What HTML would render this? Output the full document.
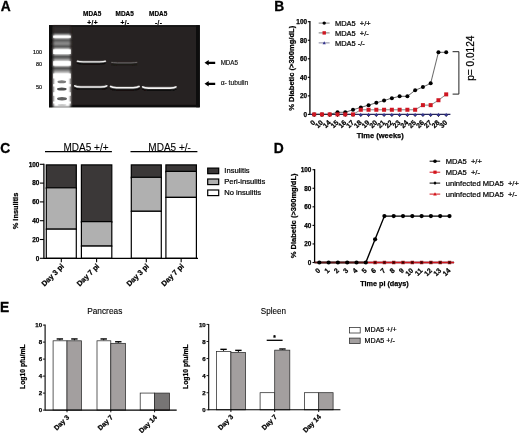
<!DOCTYPE html>
<html><head><meta charset="utf-8"><title>Figure</title>
<style>
html,body{margin:0;padding:0;background:#fff;}
body{width:520px;height:433px;overflow:hidden;}
svg{display:block;font-family:"Liberation Sans",sans-serif;}
</style></head><body>
<svg width="520" height="433" viewBox="0 0 520 433">
<defs>
<filter id="b1" x="-20%" y="-200%" width="140%" height="500%"><feGaussianBlur stdDeviation="0.6"/></filter>
<filter id="b2" x="-20%" y="-200%" width="140%" height="500%"><feGaussianBlur stdDeviation="1.1"/></filter>
<filter id="b3" x="-30%" y="-30%" width="160%" height="160%"><feGaussianBlur stdDeviation="0.9"/></filter>
<filter id="b0" x="-10%" y="-200%" width="120%" height="500%"><feGaussianBlur stdDeviation="0.35"/></filter>
<filter id="soft" x="0" y="0" width="100%" height="100%"><feGaussianBlur stdDeviation="0.3"/></filter>
</defs>
<rect width="520" height="433" fill="#fff"/>
<g filter="url(#soft)">

<text x="0.8" y="10.8" font-size="13.8" font-weight="bold" fill="#000" stroke="#000" stroke-width="0.3">A</text>
<text x="274.3" y="10.8" font-size="13.8" font-weight="bold" fill="#000" stroke="#000" stroke-width="0.3">B</text>
<text x="0.15" y="153.1" font-size="13.8" font-weight="bold" fill="#000" stroke="#000" stroke-width="0.3">C</text>
<text x="273.8" y="152.8" font-size="13.8" font-weight="bold" fill="#000" stroke="#000" stroke-width="0.3">D</text>
<text x="0" y="311.9" font-size="13.8" font-weight="bold" fill="#000" stroke="#000" stroke-width="0.3">E</text>
<g id="panelA">
<rect x="49.00" y="25.20" width="150.80" height="82.10" fill="#262120"/>
<rect x="196.20" y="25.20" width="3.60" height="82.10" fill="#0c0b0b"/>
<rect x="49.00" y="104.80" width="150.50" height="2.40" fill="#0c0b0b"/>
<rect x="49.00" y="25.30" width="150.50" height="1.20" fill="#0c0b0b"/>
<rect x="49.00" y="25.30" width="3.40" height="81.90" fill="#0c0b0b"/>
<g filter="url(#b3)">
<rect x="53.30" y="26.00" width="17.20" height="8.00" fill="#302d2d"/>
<rect x="53.30" y="34.00" width="17.20" height="1.30" fill="#666"/>
<rect x="53.30" y="35.30" width="17.20" height="2.80" fill="#fff"/>
<rect x="53.30" y="38.10" width="17.20" height="3.50" fill="#5a5a5a"/>
<rect x="53.30" y="41.60" width="17.20" height="3.40" fill="#8e8e8e"/>
<rect x="53.30" y="45.00" width="17.20" height="3.70" fill="#505050"/>
<rect x="53.30" y="48.70" width="17.20" height="6.00" fill="#fff"/>
<rect x="53.30" y="54.70" width="17.20" height="3.50" fill="#454545"/>
<rect x="53.30" y="58.20" width="17.20" height="2.30" fill="#8c8c8c"/>
<rect x="53.30" y="60.50" width="17.20" height="5.80" fill="#fff"/>
<rect x="53.30" y="66.30" width="17.20" height="3.70" fill="#484848"/>
<rect x="53.30" y="70.00" width="17.20" height="2.60" fill="#9a9a9a"/>
<rect x="53.30" y="72.60" width="17.20" height="34.50" fill="#fff"/>
</g>
<rect x="53.20" y="35.60" width="17.60" height="2.20" fill="#fff" filter="url(#b1)"/>
<rect x="53.20" y="49.40" width="17.60" height="4.60" fill="#fff" filter="url(#b1)"/>
<rect x="53.20" y="61.20" width="17.60" height="4.40" fill="#fff" filter="url(#b1)"/>
<rect x="53.20" y="73.50" width="17.60" height="5.00" fill="#fff" filter="url(#b1)"/>
<rect x="53.20" y="84.10" width="17.60" height="2.40" fill="#fff" filter="url(#b1)"/>
<rect x="53.20" y="92.20" width="17.60" height="3.60" fill="#fff" filter="url(#b1)"/>
<rect x="53.20" y="101.50" width="17.60" height="2.00" fill="#fff" filter="url(#b1)"/>
<ellipse cx="61.8" cy="81.75" rx="4.3" ry="1.5" fill="#7c7c7c" filter="url(#b1)"/>
<ellipse cx="61.8" cy="88.9" rx="4.8" ry="1.5" fill="#4c4c4c" filter="url(#b1)"/>
<ellipse cx="62" cy="98.7" rx="5.0" ry="1.7" fill="#606060" filter="url(#b1)"/>
<ellipse cx="62" cy="105" rx="4.5" ry="0.8" fill="#bbb" filter="url(#b1)"/>
<path d="M77.2,61.1 Q78.7,61.6 83.2,61.8 L99.6,61.8 Q104.1,61.6 105.6,61.1" transform="translate(0,1.6)" fill="none" stroke="#0c0a0a" stroke-width="2.4" opacity="1" filter="url(#b1)"/>
<path d="M77.2,61.1 Q78.7,61.6 83.2,61.8 L99.6,61.8 Q104.1,61.6 105.6,61.1" fill="none" stroke="#888" stroke-width="2.7" opacity="0.45" filter="url(#b1)"/>
<path d="M77.2,61.1 Q78.7,61.6 83.2,61.8 L99.6,61.8 Q104.1,61.6 105.6,61.1" fill="none" stroke="#f4f4f4" stroke-width="1.3" stroke-linecap="round" opacity="1" filter="url(#b0)"/>
<path d="M111.5,62.4 Q113.0,62.7 117.5,62.9 L131,62.9 Q135.5,62.7 137,62.4" transform="translate(0,1.6)" fill="none" stroke="#0c0a0a" stroke-width="2.4" opacity="0.336" filter="url(#b1)"/>
<path d="M111.5,62.4 Q113.0,62.7 117.5,62.9 L131,62.9 Q135.5,62.7 137,62.4" fill="none" stroke="#888" stroke-width="2.4" opacity="0.12600000000000003" filter="url(#b1)"/>
<path d="M111.5,62.4 Q113.0,62.7 117.5,62.9 L131,62.9 Q135.5,62.7 137,62.4" fill="none" stroke="#f4f4f4" stroke-width="1.0" stroke-linecap="round" opacity="0.28" filter="url(#b0)"/>
<path d="M74.8,85.8 Q76.3,86.8 80.8,87.0 L100.8,87.0 Q105.3,86.8 106.8,85.8" transform="translate(0,1.6)" fill="none" stroke="#0c0a0a" stroke-width="2.4" opacity="1" filter="url(#b1)"/>
<path d="M74.8,85.8 Q76.3,86.8 80.8,87.0 L100.8,87.0 Q105.3,86.8 106.8,85.8" fill="none" stroke="#888" stroke-width="3.0" opacity="0.45" filter="url(#b1)"/>
<path d="M74.8,85.8 Q76.3,86.8 80.8,87.0 L100.8,87.0 Q105.3,86.8 106.8,85.8" fill="none" stroke="#f4f4f4" stroke-width="1.6" stroke-linecap="round" opacity="1" filter="url(#b0)"/>
<path d="M110.5,86.4 Q112.0,87.6 116.5,87.8 L133.1,87.8 Q137.6,87.6 139.1,86.4" transform="translate(0,1.6)" fill="none" stroke="#0c0a0a" stroke-width="2.4" opacity="1" filter="url(#b1)"/>
<path d="M110.5,86.4 Q112.0,87.6 116.5,87.8 L133.1,87.8 Q137.6,87.6 139.1,86.4" fill="none" stroke="#888" stroke-width="3.0" opacity="0.45" filter="url(#b1)"/>
<path d="M110.5,86.4 Q112.0,87.6 116.5,87.8 L133.1,87.8 Q137.6,87.6 139.1,86.4" fill="none" stroke="#f4f4f4" stroke-width="1.6" stroke-linecap="round" opacity="1" filter="url(#b0)"/>
<path d="M142.6,86.89999999999999 Q144.1,87.89999999999999 148.6,88.1 L170,88.1 Q174.5,87.89999999999999 176,86.89999999999999" transform="translate(0,1.6)" fill="none" stroke="#0c0a0a" stroke-width="2.4" opacity="1" filter="url(#b1)"/>
<path d="M142.6,86.89999999999999 Q144.1,87.89999999999999 148.6,88.1 L170,88.1 Q174.5,87.89999999999999 176,86.89999999999999" fill="none" stroke="#888" stroke-width="3.0" opacity="0.45" filter="url(#b1)"/>
<path d="M142.6,86.89999999999999 Q144.1,87.89999999999999 148.6,88.1 L170,88.1 Q174.5,87.89999999999999 176,86.89999999999999" fill="none" stroke="#f4f4f4" stroke-width="1.6" stroke-linecap="round" opacity="1" filter="url(#b0)"/>
<text x="42.2" y="54" font-size="5.5" text-anchor="end" fill="#111" stroke="#111" stroke-width="0.2">100</text>
<text x="42.2" y="65.6" font-size="5.5" text-anchor="end" fill="#111" stroke="#111" stroke-width="0.2">80</text>
<text x="42.2" y="89.1" font-size="5.5" text-anchor="end" fill="#111" stroke="#111" stroke-width="0.2">50</text>
<text x="92.2" y="15.9" font-size="6.4" font-weight="bold" text-anchor="middle" fill="#000" stroke="#000" stroke-width="0.2" textLength="18.2" lengthAdjust="spacingAndGlyphs">MDA5</text>
<text x="92.4" y="25" font-size="6.6" font-weight="bold" text-anchor="middle" fill="#000" stroke="#000" stroke-width="0.2" textLength="10.2" lengthAdjust="spacing">+/+</text>
<text x="124.7" y="15.9" font-size="6.4" font-weight="bold" text-anchor="middle" fill="#000" stroke="#000" stroke-width="0.2" textLength="18.2" lengthAdjust="spacingAndGlyphs">MDA5</text>
<text x="124.9" y="25" font-size="6.6" font-weight="bold" text-anchor="middle" fill="#000" stroke="#000" stroke-width="0.2" textLength="8.7" lengthAdjust="spacing">+/-</text>
<text x="158.20000000000002" y="15.9" font-size="6.4" font-weight="bold" text-anchor="middle" fill="#000" stroke="#000" stroke-width="0.2" textLength="18.2" lengthAdjust="spacingAndGlyphs">MDA5</text>
<text x="158.4" y="25" font-size="6.6" font-weight="bold" text-anchor="middle" fill="#000" stroke="#000" stroke-width="0.2" textLength="7" lengthAdjust="spacing">-/-</text>
<path d="M204.5,62.8 l4.2,-2.7 v1.6 h6.4999999999999885 v2.2 h-6.4999999999999885 v1.6 z" fill="#000"/>
<path d="M204.5,83.8 l4.2,-2.7 v1.6 h6.4999999999999885 v2.2 h-6.4999999999999885 v1.6 z" fill="#000"/>
<text x="220.7" y="64.8" font-size="6.5" fill="#111" stroke="#111" stroke-width="0.18" textLength="17.3" lengthAdjust="spacingAndGlyphs">MDA5</text>
<text x="220.7" y="85.4" font-size="6.7" fill="#111" stroke="#111" stroke-width="0.18" textLength="27.6" lengthAdjust="spacingAndGlyphs">α- tubulin</text>
</g>
<g id="panelB">
<line x1="314.20" y1="114.40" x2="314.20" y2="116.90" stroke="#000" stroke-width="0.9"/>
<text x="315.7" y="122.9" font-size="7" font-weight="bold" text-anchor="end" fill="#000" stroke="#000" stroke-width="0.25" transform="rotate(-45 315.7 122.9)">0</text>
<line x1="321.96" y1="114.40" x2="321.96" y2="116.90" stroke="#000" stroke-width="0.9"/>
<text x="323.465" y="122.9" font-size="7" font-weight="bold" text-anchor="end" fill="#000" stroke="#000" stroke-width="0.25" transform="rotate(-45 323.465 122.9)">10</text>
<line x1="329.73" y1="114.40" x2="329.73" y2="116.90" stroke="#000" stroke-width="0.9"/>
<text x="331.22999999999996" y="122.9" font-size="7" font-weight="bold" text-anchor="end" fill="#000" stroke="#000" stroke-width="0.25" transform="rotate(-45 331.22999999999996 122.9)">14</text>
<line x1="337.50" y1="114.40" x2="337.50" y2="116.90" stroke="#000" stroke-width="0.9"/>
<text x="338.995" y="122.9" font-size="7" font-weight="bold" text-anchor="end" fill="#000" stroke="#000" stroke-width="0.25" transform="rotate(-45 338.995 122.9)">15</text>
<line x1="345.26" y1="114.40" x2="345.26" y2="116.90" stroke="#000" stroke-width="0.9"/>
<text x="346.76" y="122.9" font-size="7" font-weight="bold" text-anchor="end" fill="#000" stroke="#000" stroke-width="0.25" transform="rotate(-45 346.76 122.9)">16</text>
<line x1="353.02" y1="114.40" x2="353.02" y2="116.90" stroke="#000" stroke-width="0.9"/>
<text x="354.525" y="122.9" font-size="7" font-weight="bold" text-anchor="end" fill="#000" stroke="#000" stroke-width="0.25" transform="rotate(-45 354.525 122.9)">17</text>
<line x1="360.79" y1="114.40" x2="360.79" y2="116.90" stroke="#000" stroke-width="0.9"/>
<text x="362.28999999999996" y="122.9" font-size="7" font-weight="bold" text-anchor="end" fill="#000" stroke="#000" stroke-width="0.25" transform="rotate(-45 362.28999999999996 122.9)">18</text>
<line x1="368.56" y1="114.40" x2="368.56" y2="116.90" stroke="#000" stroke-width="0.9"/>
<text x="370.055" y="122.9" font-size="7" font-weight="bold" text-anchor="end" fill="#000" stroke="#000" stroke-width="0.25" transform="rotate(-45 370.055 122.9)">19</text>
<line x1="376.32" y1="114.40" x2="376.32" y2="116.90" stroke="#000" stroke-width="0.9"/>
<text x="377.82" y="122.9" font-size="7" font-weight="bold" text-anchor="end" fill="#000" stroke="#000" stroke-width="0.25" transform="rotate(-45 377.82 122.9)">20</text>
<line x1="384.08" y1="114.40" x2="384.08" y2="116.90" stroke="#000" stroke-width="0.9"/>
<text x="385.585" y="122.9" font-size="7" font-weight="bold" text-anchor="end" fill="#000" stroke="#000" stroke-width="0.25" transform="rotate(-45 385.585 122.9)">21</text>
<line x1="391.85" y1="114.40" x2="391.85" y2="116.90" stroke="#000" stroke-width="0.9"/>
<text x="393.34999999999997" y="122.9" font-size="7" font-weight="bold" text-anchor="end" fill="#000" stroke="#000" stroke-width="0.25" transform="rotate(-45 393.34999999999997 122.9)">22</text>
<line x1="399.62" y1="114.40" x2="399.62" y2="116.90" stroke="#000" stroke-width="0.9"/>
<text x="401.115" y="122.9" font-size="7" font-weight="bold" text-anchor="end" fill="#000" stroke="#000" stroke-width="0.25" transform="rotate(-45 401.115 122.9)">23</text>
<line x1="407.38" y1="114.40" x2="407.38" y2="116.90" stroke="#000" stroke-width="0.9"/>
<text x="408.88" y="122.9" font-size="7" font-weight="bold" text-anchor="end" fill="#000" stroke="#000" stroke-width="0.25" transform="rotate(-45 408.88 122.9)">24</text>
<line x1="415.14" y1="114.40" x2="415.14" y2="116.90" stroke="#000" stroke-width="0.9"/>
<text x="416.645" y="122.9" font-size="7" font-weight="bold" text-anchor="end" fill="#000" stroke="#000" stroke-width="0.25" transform="rotate(-45 416.645 122.9)">25</text>
<line x1="422.91" y1="114.40" x2="422.91" y2="116.90" stroke="#000" stroke-width="0.9"/>
<text x="424.40999999999997" y="122.9" font-size="7" font-weight="bold" text-anchor="end" fill="#000" stroke="#000" stroke-width="0.25" transform="rotate(-45 424.40999999999997 122.9)">26</text>
<line x1="430.67" y1="114.40" x2="430.67" y2="116.90" stroke="#000" stroke-width="0.9"/>
<text x="432.17499999999995" y="122.9" font-size="7" font-weight="bold" text-anchor="end" fill="#000" stroke="#000" stroke-width="0.25" transform="rotate(-45 432.17499999999995 122.9)">27</text>
<line x1="438.44" y1="114.40" x2="438.44" y2="116.90" stroke="#000" stroke-width="0.9"/>
<text x="439.94" y="122.9" font-size="7" font-weight="bold" text-anchor="end" fill="#000" stroke="#000" stroke-width="0.25" transform="rotate(-45 439.94 122.9)">28</text>
<line x1="446.20" y1="114.40" x2="446.20" y2="116.90" stroke="#000" stroke-width="0.9"/>
<text x="447.705" y="122.9" font-size="7" font-weight="bold" text-anchor="end" fill="#000" stroke="#000" stroke-width="0.25" transform="rotate(-45 447.705 122.9)">30</text>
<line x1="309.90" y1="21.10" x2="309.90" y2="115.00" stroke="#000" stroke-width="1.3"/>
<line x1="309.90" y1="114.40" x2="450.40" y2="114.40" stroke="#26265a" stroke-width="1.3"/>
<line x1="307.80" y1="114.40" x2="309.90" y2="114.40" stroke="#000" stroke-width="1.1"/>
<text x="307.0" y="116.7" font-size="6.4" font-weight="bold" text-anchor="end" fill="#000" stroke="#000" stroke-width="0.25">0</text>
<line x1="307.80" y1="95.86" x2="309.90" y2="95.86" stroke="#000" stroke-width="1.1"/>
<text x="307.0" y="98.16000000000001" font-size="6.4" font-weight="bold" text-anchor="end" fill="#000" stroke="#000" stroke-width="0.25">20</text>
<line x1="307.80" y1="77.32" x2="309.90" y2="77.32" stroke="#000" stroke-width="1.1"/>
<text x="307.0" y="79.62" font-size="6.4" font-weight="bold" text-anchor="end" fill="#000" stroke="#000" stroke-width="0.25">40</text>
<line x1="307.80" y1="58.78" x2="309.90" y2="58.78" stroke="#000" stroke-width="1.1"/>
<text x="307.0" y="61.08" font-size="6.4" font-weight="bold" text-anchor="end" fill="#000" stroke="#000" stroke-width="0.25">60</text>
<line x1="307.80" y1="40.24" x2="309.90" y2="40.24" stroke="#000" stroke-width="1.1"/>
<text x="307.0" y="42.540000000000006" font-size="6.4" font-weight="bold" text-anchor="end" fill="#000" stroke="#000" stroke-width="0.25">80</text>
<line x1="307.80" y1="21.70" x2="309.90" y2="21.70" stroke="#000" stroke-width="1.1"/>
<text x="307.0" y="24.000000000000004" font-size="6.4" font-weight="bold" text-anchor="end" fill="#000" stroke="#000" stroke-width="0.25">100</text>
<path d="M314.20,112.80 l1.8,3.2 h-3.6 z" fill="#36368f"/>
<path d="M321.96,112.80 l1.8,3.2 h-3.6 z" fill="#36368f"/>
<path d="M329.73,112.80 l1.8,3.2 h-3.6 z" fill="#36368f"/>
<path d="M337.50,112.80 l1.8,3.2 h-3.6 z" fill="#36368f"/>
<path d="M345.26,112.80 l1.8,3.2 h-3.6 z" fill="#36368f"/>
<path d="M353.02,112.80 l1.8,3.2 h-3.6 z" fill="#36368f"/>
<path d="M360.79,112.80 l1.8,3.2 h-3.6 z" fill="#36368f"/>
<path d="M368.56,112.80 l1.8,3.2 h-3.6 z" fill="#36368f"/>
<path d="M376.32,112.80 l1.8,3.2 h-3.6 z" fill="#36368f"/>
<path d="M384.08,112.80 l1.8,3.2 h-3.6 z" fill="#36368f"/>
<path d="M391.85,112.80 l1.8,3.2 h-3.6 z" fill="#36368f"/>
<path d="M399.62,112.80 l1.8,3.2 h-3.6 z" fill="#36368f"/>
<path d="M407.38,112.80 l1.8,3.2 h-3.6 z" fill="#36368f"/>
<path d="M415.14,112.80 l1.8,3.2 h-3.6 z" fill="#36368f"/>
<path d="M422.91,112.80 l1.8,3.2 h-3.6 z" fill="#36368f"/>
<path d="M430.67,112.80 l1.8,3.2 h-3.6 z" fill="#36368f"/>
<path d="M438.44,112.80 l1.8,3.2 h-3.6 z" fill="#36368f"/>
<path d="M446.20,112.80 l1.8,3.2 h-3.6 z" fill="#36368f"/>
<polyline fill="none" stroke="#222" stroke-width="0.7" points="314.20,114.40 321.96,114.40 329.73,114.40 337.50,112.27 345.26,112.27 353.02,109.77 360.79,107.45 368.56,105.13 376.32,102.81 384.08,100.50 391.85,98.18 399.62,96.32 407.38,96.32 415.14,90.30 422.91,87.05 430.67,83.35 438.44,52.29 446.20,52.29"/>
<circle cx="314.20" cy="114.40" r="2" fill="#000"/>
<circle cx="321.96" cy="114.40" r="2" fill="#000"/>
<circle cx="329.73" cy="114.40" r="2" fill="#000"/>
<circle cx="337.50" cy="112.27" r="2" fill="#000"/>
<circle cx="345.26" cy="112.27" r="2" fill="#000"/>
<circle cx="353.02" cy="109.77" r="2" fill="#000"/>
<circle cx="360.79" cy="107.45" r="2" fill="#000"/>
<circle cx="368.56" cy="105.13" r="2" fill="#000"/>
<circle cx="376.32" cy="102.81" r="2" fill="#000"/>
<circle cx="384.08" cy="100.50" r="2" fill="#000"/>
<circle cx="391.85" cy="98.18" r="2" fill="#000"/>
<circle cx="399.62" cy="96.32" r="2" fill="#000"/>
<circle cx="407.38" cy="96.32" r="2" fill="#000"/>
<circle cx="415.14" cy="90.30" r="2" fill="#000"/>
<circle cx="422.91" cy="87.05" r="2" fill="#000"/>
<circle cx="430.67" cy="83.35" r="2" fill="#000"/>
<circle cx="438.44" cy="52.29" r="2" fill="#000"/>
<circle cx="446.20" cy="52.29" r="2" fill="#000"/>
<polyline fill="none" stroke="#333" stroke-width="0.6" points="314.20,114.40 321.96,114.40 329.73,114.40 337.50,114.40 345.26,114.40 353.02,114.40 360.79,109.77 368.56,109.77 376.32,109.77 384.08,109.77 391.85,109.77 399.62,109.77 407.38,109.77 415.14,109.77 422.91,105.13 430.67,105.13 438.44,100.22 446.20,94.38"/>
<rect x="312.20" y="112.40" width="4.00" height="4.00" fill="#cf1820"/>
<rect x="319.96" y="112.40" width="4.00" height="4.00" fill="#cf1820"/>
<rect x="327.73" y="112.40" width="4.00" height="4.00" fill="#cf1820"/>
<rect x="335.50" y="112.40" width="4.00" height="4.00" fill="#cf1820"/>
<rect x="343.26" y="112.40" width="4.00" height="4.00" fill="#cf1820"/>
<rect x="351.02" y="112.40" width="4.00" height="4.00" fill="#cf1820"/>
<rect x="358.79" y="107.77" width="4.00" height="4.00" fill="#cf1820"/>
<rect x="366.56" y="107.77" width="4.00" height="4.00" fill="#cf1820"/>
<rect x="374.32" y="107.77" width="4.00" height="4.00" fill="#cf1820"/>
<rect x="382.08" y="107.77" width="4.00" height="4.00" fill="#cf1820"/>
<rect x="389.85" y="107.77" width="4.00" height="4.00" fill="#cf1820"/>
<rect x="397.62" y="107.77" width="4.00" height="4.00" fill="#cf1820"/>
<rect x="405.38" y="107.77" width="4.00" height="4.00" fill="#cf1820"/>
<rect x="413.14" y="107.77" width="4.00" height="4.00" fill="#cf1820"/>
<rect x="420.91" y="103.13" width="4.00" height="4.00" fill="#cf1820"/>
<rect x="428.67" y="103.13" width="4.00" height="4.00" fill="#cf1820"/>
<rect x="436.44" y="98.22" width="4.00" height="4.00" fill="#cf1820"/>
<rect x="444.20" y="92.38" width="4.00" height="4.00" fill="#cf1820"/>
<line x1="318.70" y1="23.10" x2="329.60" y2="23.10" stroke="#444" stroke-width="0.7"/>
<circle cx="324.2" cy="23.1" r="1.7" fill="#000"/>
<text x="335" y="25.900000000000002" font-size="7.45" fill="#000" stroke="#000" stroke-width="0.22">MDA5 &#160;+/+</text>
<line x1="318.70" y1="32.90" x2="329.60" y2="32.90" stroke="#444" stroke-width="0.7"/>
<rect x="322.50" y="31.20" width="3.40" height="3.40" fill="#cf1820"/>
<text x="335" y="35.699999999999996" font-size="7.45" fill="#000" stroke="#000" stroke-width="0.22">MDA5 &#160;+/-</text>
<line x1="318.70" y1="42.90" x2="329.60" y2="42.90" stroke="#55557a" stroke-width="0.7"/>
<path d="M324.2,41.3 l1.6,2.9 h-3.2 z" fill="#36368f"/>
<text x="335" y="45.699999999999996" font-size="7.45" fill="#000" stroke="#000" stroke-width="0.22">MDA5 -/-</text>
<text x="293.8" y="68.3" font-size="7.5" font-weight="bold" text-anchor="middle" fill="#000" stroke="#000" stroke-width="0.25" textLength="85" lengthAdjust="spacingAndGlyphs" transform="rotate(-90 293.8 68.3)">% Diabetic (&gt;300mg/dL)</text>
<text x="380.3" y="138.3" font-size="7.45" font-weight="bold" text-anchor="middle" fill="#000" stroke="#000" stroke-width="0.25" textLength="47" lengthAdjust="spacingAndGlyphs">Time (weeks)</text>
<path d="M452.6,51.7 H458.9 V94.1 H452.6" fill="none" stroke="#222" stroke-width="1"/>
<text x="474.3" y="58.2" font-size="10.1" text-anchor="middle" fill="#000" stroke="#000" stroke-width="0.25" transform="rotate(-90 474.3 58.2)">p= 0.0124</text>
</g>
<g id="panelC">
<rect x="46.30" y="164.90" width="30.00" height="23.50" fill="#3a3838" stroke="#000" stroke-width="1.2"/>
<rect x="46.30" y="187.80" width="30.00" height="41.36" fill="#b0b0b0" stroke="#000" stroke-width="1.2"/>
<rect x="46.30" y="229.16" width="30.00" height="29.14" fill="#fff" stroke="#000" stroke-width="1.2"/>
<line x1="61.30" y1="258.30" x2="61.30" y2="262.30" stroke="#000" stroke-width="1.1"/>
<rect x="81.40" y="164.90" width="30.40" height="57.34" fill="#3a3838" stroke="#000" stroke-width="1.2"/>
<rect x="81.40" y="221.64" width="30.40" height="24.44" fill="#b0b0b0" stroke="#000" stroke-width="1.2"/>
<rect x="81.40" y="246.08" width="30.40" height="12.22" fill="#fff" stroke="#000" stroke-width="1.2"/>
<line x1="96.60" y1="258.30" x2="96.60" y2="262.30" stroke="#000" stroke-width="1.1"/>
<rect x="131.30" y="164.90" width="30.00" height="12.97" fill="#3a3838" stroke="#000" stroke-width="1.2"/>
<rect x="131.30" y="177.27" width="30.00" height="34.03" fill="#b0b0b0" stroke="#000" stroke-width="1.2"/>
<rect x="131.30" y="211.30" width="30.00" height="47.00" fill="#fff" stroke="#000" stroke-width="1.2"/>
<line x1="146.30" y1="258.30" x2="146.30" y2="262.30" stroke="#000" stroke-width="1.1"/>
<rect x="165.90" y="164.90" width="30.50" height="7.05" fill="#3a3838" stroke="#000" stroke-width="1.2"/>
<rect x="165.90" y="171.35" width="30.50" height="26.04" fill="#b0b0b0" stroke="#000" stroke-width="1.2"/>
<rect x="165.90" y="197.39" width="30.50" height="60.91" fill="#fff" stroke="#000" stroke-width="1.2"/>
<line x1="181.15" y1="258.30" x2="181.15" y2="262.30" stroke="#000" stroke-width="1.1"/>
<line x1="43.90" y1="163.70" x2="43.90" y2="258.90" stroke="#000" stroke-width="1.3"/>
<line x1="43.90" y1="258.30" x2="198.00" y2="258.30" stroke="#000" stroke-width="1.3"/>
<line x1="39.90" y1="258.30" x2="43.90" y2="258.30" stroke="#000" stroke-width="1.1"/>
<text x="39.3" y="260.6" font-size="6.4" font-weight="bold" text-anchor="end" fill="#000" stroke="#000" stroke-width="0.25">0</text>
<line x1="39.90" y1="239.50" x2="43.90" y2="239.50" stroke="#000" stroke-width="1.1"/>
<text x="39.3" y="241.8" font-size="6.4" font-weight="bold" text-anchor="end" fill="#000" stroke="#000" stroke-width="0.25">20</text>
<line x1="39.90" y1="220.70" x2="43.90" y2="220.70" stroke="#000" stroke-width="1.1"/>
<text x="39.3" y="223.00000000000003" font-size="6.4" font-weight="bold" text-anchor="end" fill="#000" stroke="#000" stroke-width="0.25">40</text>
<line x1="39.90" y1="201.90" x2="43.90" y2="201.90" stroke="#000" stroke-width="1.1"/>
<text x="39.3" y="204.20000000000002" font-size="6.4" font-weight="bold" text-anchor="end" fill="#000" stroke="#000" stroke-width="0.25">60</text>
<line x1="39.90" y1="183.10" x2="43.90" y2="183.10" stroke="#000" stroke-width="1.1"/>
<text x="39.3" y="185.40000000000003" font-size="6.4" font-weight="bold" text-anchor="end" fill="#000" stroke="#000" stroke-width="0.25">80</text>
<line x1="39.90" y1="164.30" x2="43.90" y2="164.30" stroke="#000" stroke-width="1.1"/>
<text x="39.3" y="166.60000000000002" font-size="6.4" font-weight="bold" text-anchor="end" fill="#000" stroke="#000" stroke-width="0.25">100</text>
<text x="64.5" y="266.7" font-size="7.4" font-weight="bold" text-anchor="end" fill="#000" stroke="#000" stroke-width="0.25" transform="rotate(-45 64.5 266.7)">Day 3 pi</text>
<text x="99.8" y="266.7" font-size="7.4" font-weight="bold" text-anchor="end" fill="#000" stroke="#000" stroke-width="0.25" transform="rotate(-45 99.8 266.7)">Day 7 pi</text>
<text x="149.5" y="266.7" font-size="7.4" font-weight="bold" text-anchor="end" fill="#000" stroke="#000" stroke-width="0.25" transform="rotate(-45 149.5 266.7)">Day 3 pi</text>
<text x="184.35" y="266.7" font-size="7.4" font-weight="bold" text-anchor="end" fill="#000" stroke="#000" stroke-width="0.25" transform="rotate(-45 184.35 266.7)">Day 7 pi</text>
<text x="17.7" y="211" font-size="7.4" font-weight="bold" text-anchor="middle" fill="#000" stroke="#000" stroke-width="0.25" transform="rotate(-90 17.7 211)">% insulitis</text>
<line x1="45.00" y1="151.60" x2="111.90" y2="151.60" stroke="#000" stroke-width="1.2"/>
<line x1="130.50" y1="151.60" x2="197.40" y2="151.60" stroke="#000" stroke-width="1.2"/>
<text x="86" y="151.2" font-size="10" text-anchor="middle" fill="#000" stroke="#000" stroke-width="0.1">MDA5 +/+</text>
<text x="169.6" y="151.2" font-size="10" text-anchor="middle" fill="#000" stroke="#000" stroke-width="0.1">MDA5 +/-</text>
<rect x="207.70" y="168.10" width="11.00" height="5.60" fill="#3a3838" stroke="#000" stroke-width="1.2"/>
<text x="224.3" y="173.3" font-size="7.6" fill="#000" stroke="#000" stroke-width="0.22">Insulitis</text>
<rect x="207.70" y="179.00" width="11.00" height="5.60" fill="#b0b0b0" stroke="#000" stroke-width="1.2"/>
<text x="224.3" y="184.20000000000002" font-size="7.6" fill="#000" stroke="#000" stroke-width="0.22">Peri-insulitis</text>
<rect x="207.70" y="190.00" width="11.00" height="5.60" fill="#fff" stroke="#000" stroke-width="1.2"/>
<text x="224.3" y="195.20000000000002" font-size="7.6" fill="#000" stroke="#000" stroke-width="0.22">No insulitis</text>
</g>
<g id="panelD">
<text x="320.8" y="271.1" font-size="7" font-weight="bold" text-anchor="end" fill="#000" stroke="#000" stroke-width="0.25" transform="rotate(-45 320.8 271.1)">0</text>
<text x="330.1" y="271.1" font-size="7" font-weight="bold" text-anchor="end" fill="#000" stroke="#000" stroke-width="0.25" transform="rotate(-45 330.1 271.1)">1</text>
<text x="339.40000000000003" y="271.1" font-size="7" font-weight="bold" text-anchor="end" fill="#000" stroke="#000" stroke-width="0.25" transform="rotate(-45 339.40000000000003 271.1)">2</text>
<text x="348.7" y="271.1" font-size="7" font-weight="bold" text-anchor="end" fill="#000" stroke="#000" stroke-width="0.25" transform="rotate(-45 348.7 271.1)">3</text>
<text x="358.0" y="271.1" font-size="7" font-weight="bold" text-anchor="end" fill="#000" stroke="#000" stroke-width="0.25" transform="rotate(-45 358.0 271.1)">4</text>
<text x="367.3" y="271.1" font-size="7" font-weight="bold" text-anchor="end" fill="#000" stroke="#000" stroke-width="0.25" transform="rotate(-45 367.3 271.1)">5</text>
<text x="376.6" y="271.1" font-size="7" font-weight="bold" text-anchor="end" fill="#000" stroke="#000" stroke-width="0.25" transform="rotate(-45 376.6 271.1)">6</text>
<text x="385.90000000000003" y="271.1" font-size="7" font-weight="bold" text-anchor="end" fill="#000" stroke="#000" stroke-width="0.25" transform="rotate(-45 385.90000000000003 271.1)">7</text>
<text x="395.20000000000005" y="271.1" font-size="7" font-weight="bold" text-anchor="end" fill="#000" stroke="#000" stroke-width="0.25" transform="rotate(-45 395.20000000000005 271.1)">8</text>
<text x="404.5" y="271.1" font-size="7" font-weight="bold" text-anchor="end" fill="#000" stroke="#000" stroke-width="0.25" transform="rotate(-45 404.5 271.1)">9</text>
<text x="413.8" y="271.1" font-size="7" font-weight="bold" text-anchor="end" fill="#000" stroke="#000" stroke-width="0.25" transform="rotate(-45 413.8 271.1)">10</text>
<text x="423.1" y="271.1" font-size="7" font-weight="bold" text-anchor="end" fill="#000" stroke="#000" stroke-width="0.25" transform="rotate(-45 423.1 271.1)">11</text>
<text x="432.40000000000003" y="271.1" font-size="7" font-weight="bold" text-anchor="end" fill="#000" stroke="#000" stroke-width="0.25" transform="rotate(-45 432.40000000000003 271.1)">12</text>
<text x="441.70000000000005" y="271.1" font-size="7" font-weight="bold" text-anchor="end" fill="#000" stroke="#000" stroke-width="0.25" transform="rotate(-45 441.70000000000005 271.1)">13</text>
<text x="451.0" y="271.1" font-size="7" font-weight="bold" text-anchor="end" fill="#000" stroke="#000" stroke-width="0.25" transform="rotate(-45 451.0 271.1)">14</text>
<line x1="314.60" y1="169.10" x2="314.60" y2="263.10" stroke="#000" stroke-width="1.3"/>
<line x1="314.60" y1="262.50" x2="454.10" y2="262.50" stroke="#000" stroke-width="1.3"/>
<line x1="312.50" y1="262.50" x2="314.60" y2="262.50" stroke="#000" stroke-width="1.1"/>
<text x="311.40000000000003" y="264.8" font-size="6.4" font-weight="bold" text-anchor="end" fill="#000" stroke="#000" stroke-width="0.25">0</text>
<line x1="312.50" y1="243.94" x2="314.60" y2="243.94" stroke="#000" stroke-width="1.1"/>
<text x="311.40000000000003" y="246.24" font-size="6.4" font-weight="bold" text-anchor="end" fill="#000" stroke="#000" stroke-width="0.25">20</text>
<line x1="312.50" y1="225.38" x2="314.60" y2="225.38" stroke="#000" stroke-width="1.1"/>
<text x="311.40000000000003" y="227.68" font-size="6.4" font-weight="bold" text-anchor="end" fill="#000" stroke="#000" stroke-width="0.25">40</text>
<line x1="312.50" y1="206.82" x2="314.60" y2="206.82" stroke="#000" stroke-width="1.1"/>
<text x="311.40000000000003" y="209.12" font-size="6.4" font-weight="bold" text-anchor="end" fill="#000" stroke="#000" stroke-width="0.25">60</text>
<line x1="312.50" y1="188.26" x2="314.60" y2="188.26" stroke="#000" stroke-width="1.1"/>
<text x="311.40000000000003" y="190.56" font-size="6.4" font-weight="bold" text-anchor="end" fill="#000" stroke="#000" stroke-width="0.25">80</text>
<line x1="312.50" y1="169.70" x2="314.60" y2="169.70" stroke="#000" stroke-width="1.1"/>
<text x="311.40000000000003" y="172.0" font-size="6.4" font-weight="bold" text-anchor="end" fill="#000" stroke="#000" stroke-width="0.25">100</text>
<line x1="365.80" y1="262.50" x2="454.10" y2="262.50" stroke="#d3151c" stroke-width="1.3"/>
<rect x="373.40" y="260.80" width="3.40" height="3.40" fill="#8a1015"/>
<circle cx="375.10" cy="262.50" r="1.1" fill="#300"/>
<rect x="382.70" y="260.80" width="3.40" height="3.40" fill="#8a1015"/>
<circle cx="384.40" cy="262.50" r="1.1" fill="#300"/>
<rect x="392.00" y="260.80" width="3.40" height="3.40" fill="#8a1015"/>
<circle cx="393.70" cy="262.50" r="1.1" fill="#300"/>
<rect x="401.30" y="260.80" width="3.40" height="3.40" fill="#8a1015"/>
<circle cx="403.00" cy="262.50" r="1.1" fill="#300"/>
<rect x="410.60" y="260.80" width="3.40" height="3.40" fill="#8a1015"/>
<circle cx="412.30" cy="262.50" r="1.1" fill="#300"/>
<rect x="419.90" y="260.80" width="3.40" height="3.40" fill="#8a1015"/>
<circle cx="421.60" cy="262.50" r="1.1" fill="#300"/>
<rect x="429.20" y="260.80" width="3.40" height="3.40" fill="#8a1015"/>
<circle cx="430.90" cy="262.50" r="1.1" fill="#300"/>
<rect x="438.50" y="260.80" width="3.40" height="3.40" fill="#8a1015"/>
<circle cx="440.20" cy="262.50" r="1.1" fill="#300"/>
<rect x="447.80" y="260.80" width="3.40" height="3.40" fill="#8a1015"/>
<circle cx="449.50" cy="262.50" r="1.1" fill="#300"/>
<polyline fill="none" stroke="#000" stroke-width="1.4" points="319.30,262.50 328.60,262.50 337.90,262.50 347.20,262.50 356.50,262.50 365.80,262.50 375.10,239.30 384.40,216.10 393.70,216.10 403.00,216.10 412.30,216.10 421.60,216.10 430.90,216.10 440.20,216.10 449.50,216.10"/>
<line x1="314.60" y1="262.50" x2="365.80" y2="262.50" stroke="#5c1517" stroke-width="1.5"/>
<circle cx="319.30" cy="262.50" r="2.1" fill="#000"/>
<circle cx="328.60" cy="262.50" r="2.1" fill="#000"/>
<circle cx="337.90" cy="262.50" r="2.1" fill="#000"/>
<circle cx="347.20" cy="262.50" r="2.1" fill="#000"/>
<circle cx="356.50" cy="262.50" r="2.1" fill="#000"/>
<circle cx="365.80" cy="262.50" r="2.1" fill="#000"/>
<circle cx="375.10" cy="239.30" r="2.1" fill="#000"/>
<circle cx="384.40" cy="216.10" r="2.1" fill="#000"/>
<circle cx="393.70" cy="216.10" r="2.1" fill="#000"/>
<circle cx="403.00" cy="216.10" r="2.1" fill="#000"/>
<circle cx="412.30" cy="216.10" r="2.1" fill="#000"/>
<circle cx="421.60" cy="216.10" r="2.1" fill="#000"/>
<circle cx="430.90" cy="216.10" r="2.1" fill="#000"/>
<circle cx="440.20" cy="216.10" r="2.1" fill="#000"/>
<circle cx="449.50" cy="216.10" r="2.1" fill="#000"/>
<line x1="429.60" y1="161.20" x2="440.20" y2="161.20" stroke="#000" stroke-width="1.0"/>
<circle cx="435" cy="161.2" r="1.8" fill="#000"/>
<text x="445.8" y="163.79999999999998" font-size="7.55" fill="#000" stroke="#000" stroke-width="0.22">MDA5 &#160;+/+</text>
<line x1="429.60" y1="172.20" x2="440.20" y2="172.20" stroke="#d3151c" stroke-width="1.0"/>
<rect x="433.40" y="170.60" width="3.20" height="3.20" fill="#d3151c"/>
<text x="445.8" y="174.79999999999998" font-size="7.55" fill="#000" stroke="#000" stroke-width="0.22">MDA5 &#160;+/-</text>
<line x1="429.60" y1="183.10" x2="440.20" y2="183.10" stroke="#000" stroke-width="1.0"/>
<path d="M435,181.29999999999998 l1.5,1.8 l-1.5,1.8 l-1.5,-1.8 z" fill="#000"/>
<text x="445.8" y="185.7" font-size="7.55" fill="#000" stroke="#000" stroke-width="0.22">uninfected MDA5 &#160;+/+</text>
<line x1="429.60" y1="194.10" x2="440.20" y2="194.10" stroke="#d3151c" stroke-width="1.0"/>
<path d="M435,192.2 l1.8,3.2 h-3.6 z" fill="#d3151c"/>
<text x="445.8" y="196.7" font-size="7.55" fill="#000" stroke="#000" stroke-width="0.22">uninfected MDA5 &#160;+/-</text>
<text x="296.2" y="215.9" font-size="7.5" font-weight="bold" text-anchor="middle" fill="#000" stroke="#000" stroke-width="0.25" textLength="84.8" lengthAdjust="spacingAndGlyphs" transform="rotate(-90 296.2 215.9)">% Diabetic (&gt;300mg/dL)</text>
<text x="384.5" y="286.3" font-size="7.3" font-weight="bold" text-anchor="middle" fill="#000" stroke="#000" stroke-width="0.25" textLength="48.6" lengthAdjust="spacingAndGlyphs">Time pi (days)</text>
</g>
<g id="panelE">
<line x1="59.85" y1="340.40" x2="59.85" y2="338.96" stroke="#000" stroke-width="0.9"/>
<line x1="56.65" y1="338.96" x2="63.05" y2="338.96" stroke="#000" stroke-width="1.4"/>
<line x1="74.40" y1="340.40" x2="74.40" y2="338.96" stroke="#000" stroke-width="0.9"/>
<line x1="71.20" y1="338.96" x2="77.60" y2="338.96" stroke="#000" stroke-width="1.4"/>
<rect x="53.10" y="340.80" width="13.90" height="69.30" fill="#fff" stroke="#2a2a2a" stroke-width="0.75"/>
<rect x="67.00" y="340.80" width="14.40" height="69.30" fill="#a39f9f" stroke="#2a2a2a" stroke-width="0.75"/>
<line x1="67.00" y1="410.10" x2="67.00" y2="412.30" stroke="#000" stroke-width="0.9"/>
<line x1="103.70" y1="340.40" x2="103.70" y2="338.96" stroke="#000" stroke-width="0.9"/>
<line x1="100.50" y1="338.96" x2="106.90" y2="338.96" stroke="#000" stroke-width="1.4"/>
<line x1="118.30" y1="342.95" x2="118.30" y2="341.76" stroke="#000" stroke-width="0.9"/>
<line x1="115.10" y1="341.76" x2="121.50" y2="341.76" stroke="#000" stroke-width="1.4"/>
<rect x="97.00" y="340.80" width="13.80" height="69.30" fill="#fff" stroke="#2a2a2a" stroke-width="0.75"/>
<rect x="110.80" y="343.35" width="14.60" height="66.75" fill="#a39f9f" stroke="#2a2a2a" stroke-width="0.75"/>
<line x1="110.80" y1="410.10" x2="110.80" y2="412.30" stroke="#000" stroke-width="0.9"/>
<rect x="140.20" y="393.07" width="14.40" height="17.02" fill="#fff" stroke="#2a2a2a" stroke-width="0.75"/>
<rect x="154.60" y="393.07" width="15.00" height="17.02" fill="#777575" stroke="#2a2a2a" stroke-width="0.75"/>
<line x1="154.60" y1="410.10" x2="154.60" y2="412.30" stroke="#000" stroke-width="0.9"/>
<line x1="45.10" y1="324.60" x2="45.10" y2="410.60" stroke="#000" stroke-width="1.1"/>
<line x1="45.10" y1="410.10" x2="176.70" y2="410.10" stroke="#000" stroke-width="1.1"/>
<line x1="42.90" y1="410.10" x2="45.10" y2="410.10" stroke="#000" stroke-width="0.9"/>
<text x="42.1" y="412.3" font-size="6.1" font-weight="bold" text-anchor="end" fill="#000" stroke="#000" stroke-width="0.25">0</text>
<line x1="42.90" y1="393.10" x2="45.10" y2="393.10" stroke="#000" stroke-width="0.9"/>
<text x="42.1" y="395.3" font-size="6.1" font-weight="bold" text-anchor="end" fill="#000" stroke="#000" stroke-width="0.25">2</text>
<line x1="42.90" y1="376.10" x2="45.10" y2="376.10" stroke="#000" stroke-width="0.9"/>
<text x="42.1" y="378.3" font-size="6.1" font-weight="bold" text-anchor="end" fill="#000" stroke="#000" stroke-width="0.25">4</text>
<line x1="42.90" y1="359.10" x2="45.10" y2="359.10" stroke="#000" stroke-width="0.9"/>
<text x="42.1" y="361.3" font-size="6.1" font-weight="bold" text-anchor="end" fill="#000" stroke="#000" stroke-width="0.25">6</text>
<line x1="42.90" y1="342.10" x2="45.10" y2="342.10" stroke="#000" stroke-width="0.9"/>
<text x="42.1" y="344.3" font-size="6.1" font-weight="bold" text-anchor="end" fill="#000" stroke="#000" stroke-width="0.25">8</text>
<line x1="42.90" y1="325.10" x2="45.10" y2="325.10" stroke="#000" stroke-width="0.9"/>
<text x="42.1" y="327.3" font-size="6.1" font-weight="bold" text-anchor="end" fill="#000" stroke="#000" stroke-width="0.25">10</text>
<text x="69.8" y="417.70000000000005" font-size="6.9" font-weight="bold" text-anchor="end" fill="#000" stroke="#000" stroke-width="0.25" transform="rotate(-45 69.8 417.70000000000005)">Day 3</text>
<text x="113.6" y="417.70000000000005" font-size="6.9" font-weight="bold" text-anchor="end" fill="#000" stroke="#000" stroke-width="0.25" transform="rotate(-45 113.6 417.70000000000005)">Day 7</text>
<text x="157.4" y="417.70000000000005" font-size="6.9" font-weight="bold" text-anchor="end" fill="#000" stroke="#000" stroke-width="0.25" transform="rotate(-45 157.4 417.70000000000005)">Day 14</text>
<text x="104.75" y="313.9" font-size="8.2" text-anchor="middle" fill="#000" stroke="#000" stroke-width="0.12" textLength="35.1" lengthAdjust="spacingAndGlyphs">Pancreas</text>
<text x="24.8" y="366.7" font-size="6.8" font-weight="bold" text-anchor="middle" fill="#000" stroke="#000" stroke-width="0.25" textLength="44.6" lengthAdjust="spacingAndGlyphs" transform="rotate(-90 24.8 366.7)">Log10 pfu/mL</text>
<line x1="223.55" y1="351.04" x2="223.55" y2="349.34" stroke="#000" stroke-width="0.9"/>
<line x1="220.35" y1="349.34" x2="226.75" y2="349.34" stroke="#000" stroke-width="1.4"/>
<line x1="238.40" y1="352.07" x2="238.40" y2="350.36" stroke="#000" stroke-width="0.9"/>
<line x1="235.20" y1="350.36" x2="241.60" y2="350.36" stroke="#000" stroke-width="1.4"/>
<rect x="216.60" y="351.44" width="14.30" height="58.36" fill="#fff" stroke="#2a2a2a" stroke-width="0.75"/>
<rect x="230.90" y="352.47" width="14.60" height="57.33" fill="#a39f9f" stroke="#2a2a2a" stroke-width="0.75"/>
<line x1="230.90" y1="409.80" x2="230.90" y2="412.00" stroke="#000" stroke-width="0.9"/>
<line x1="282.45" y1="349.76" x2="282.45" y2="349.00" stroke="#000" stroke-width="0.9"/>
<line x1="279.25" y1="349.00" x2="285.65" y2="349.00" stroke="#000" stroke-width="1.4"/>
<rect x="260.10" y="392.69" width="14.60" height="17.11" fill="#fff" stroke="#2a2a2a" stroke-width="0.75"/>
<rect x="274.70" y="350.16" width="15.10" height="59.64" fill="#a39f9f" stroke="#2a2a2a" stroke-width="0.75"/>
<line x1="274.70" y1="409.80" x2="274.70" y2="412.00" stroke="#000" stroke-width="0.9"/>
<rect x="304.40" y="392.69" width="14.30" height="17.11" fill="#fff" stroke="#2a2a2a" stroke-width="0.75"/>
<rect x="318.70" y="392.69" width="14.40" height="17.11" fill="#a39f9f" stroke="#2a2a2a" stroke-width="0.75"/>
<line x1="318.70" y1="409.80" x2="318.70" y2="412.00" stroke="#000" stroke-width="0.9"/>
<line x1="208.70" y1="323.90" x2="208.70" y2="410.30" stroke="#000" stroke-width="1.1"/>
<line x1="208.70" y1="409.80" x2="340.40" y2="409.80" stroke="#000" stroke-width="1.1"/>
<line x1="206.50" y1="409.80" x2="208.70" y2="409.80" stroke="#000" stroke-width="0.9"/>
<text x="205.7" y="412.0" font-size="6.1" font-weight="bold" text-anchor="end" fill="#000" stroke="#000" stroke-width="0.25">0</text>
<line x1="206.50" y1="392.72" x2="208.70" y2="392.72" stroke="#000" stroke-width="0.9"/>
<text x="205.7" y="394.92" font-size="6.1" font-weight="bold" text-anchor="end" fill="#000" stroke="#000" stroke-width="0.25">2</text>
<line x1="206.50" y1="375.64" x2="208.70" y2="375.64" stroke="#000" stroke-width="0.9"/>
<text x="205.7" y="377.84" font-size="6.1" font-weight="bold" text-anchor="end" fill="#000" stroke="#000" stroke-width="0.25">4</text>
<line x1="206.50" y1="358.56" x2="208.70" y2="358.56" stroke="#000" stroke-width="0.9"/>
<text x="205.7" y="360.76" font-size="6.1" font-weight="bold" text-anchor="end" fill="#000" stroke="#000" stroke-width="0.25">6</text>
<line x1="206.50" y1="341.48" x2="208.70" y2="341.48" stroke="#000" stroke-width="0.9"/>
<text x="205.7" y="343.68" font-size="6.1" font-weight="bold" text-anchor="end" fill="#000" stroke="#000" stroke-width="0.25">8</text>
<line x1="206.50" y1="324.40" x2="208.70" y2="324.40" stroke="#000" stroke-width="0.9"/>
<text x="205.7" y="326.6" font-size="6.1" font-weight="bold" text-anchor="end" fill="#000" stroke="#000" stroke-width="0.25">10</text>
<text x="233.70000000000002" y="417.40000000000003" font-size="6.9" font-weight="bold" text-anchor="end" fill="#000" stroke="#000" stroke-width="0.25" transform="rotate(-45 233.70000000000002 417.40000000000003)">Day 3</text>
<text x="277.5" y="417.40000000000003" font-size="6.9" font-weight="bold" text-anchor="end" fill="#000" stroke="#000" stroke-width="0.25" transform="rotate(-45 277.5 417.40000000000003)">Day 7</text>
<text x="321.5" y="417.40000000000003" font-size="6.9" font-weight="bold" text-anchor="end" fill="#000" stroke="#000" stroke-width="0.25" transform="rotate(-45 321.5 417.40000000000003)">Day 14</text>
<text x="273.4" y="313.9" font-size="8.2" text-anchor="middle" fill="#000" stroke="#000" stroke-width="0.12" textLength="25.2" lengthAdjust="spacingAndGlyphs">Spleen</text>
<text x="188.39999999999998" y="366.7" font-size="6.8" font-weight="bold" text-anchor="middle" fill="#000" stroke="#000" stroke-width="0.25" textLength="44.6" lengthAdjust="spacingAndGlyphs" transform="rotate(-90 188.39999999999998 366.7)">Log10 pfu/mL</text>
<line x1="266.70" y1="340.30" x2="282.60" y2="340.30" stroke="#000" stroke-width="1.3"/>
<text x="274.6" y="339.6" font-size="6.5" font-weight="bold" text-anchor="middle" fill="#000" stroke="#000" stroke-width="0.25">*</text>
<rect x="349.40" y="327.60" width="10.80" height="5.40" fill="#fff" stroke="#2a2a2a" stroke-width="0.75"/>
<text x="364.6" y="332.0" font-size="7.1" fill="#000" stroke="#000" stroke-width="0.2">MDA5 +/+</text>
<rect x="349.40" y="338.10" width="10.80" height="5.40" fill="#a39f9f" stroke="#2a2a2a" stroke-width="0.75"/>
<text x="364.6" y="342.5" font-size="7.1" fill="#000" stroke="#000" stroke-width="0.2">MDA5 +/-</text>
</g>
</g></svg></body></html>
